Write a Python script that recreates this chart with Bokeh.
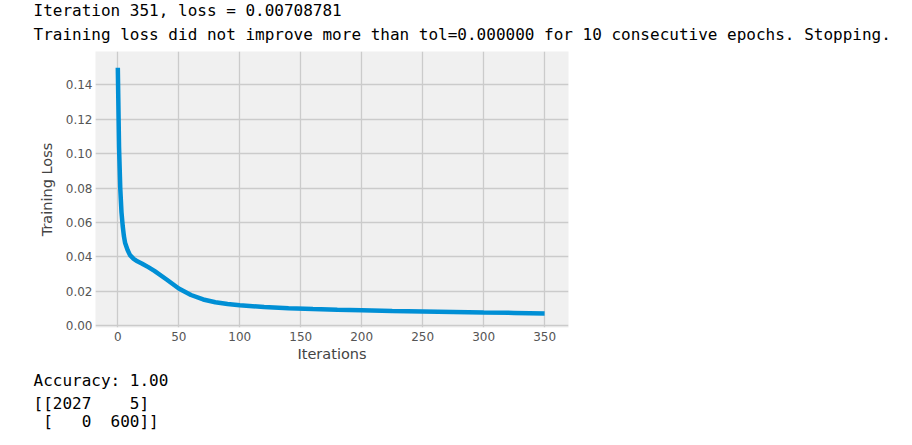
from bokeh.plotting import figure
from bokeh.models import Range1d, FixedTicker, NumeralTickFormatter, Title
from bokeh.embed import file_html
from bokeh.resources import INLINE

# ---- data ----
iterations = [0, 1, 2, 3, 4, 5, 6, 8, 10, 13, 16, 20, 25, 30, 40, 50, 60, 70, 80,
              90, 100, 120, 140, 160, 180, 200, 225, 250, 275, 300, 325, 350]
loss = [0.150, 0.104, 0.080, 0.066, 0.058, 0.052, 0.048, 0.0440, 0.0410, 0.0388,
        0.0374, 0.0360, 0.0340, 0.0318, 0.0268, 0.0216, 0.0178, 0.0152, 0.0136,
        0.0126, 0.0118, 0.0108, 0.0101, 0.0096, 0.0092, 0.0089, 0.0085, 0.0082,
        0.0079, 0.0076, 0.0074, 0.00709]
x_ticks = [0, 50, 100, 150, 200, 250, 300, 350]
y_ticks = [0.00, 0.02, 0.04, 0.06, 0.08, 0.10, 0.12, 0.14]
log_top = ["Iteration 351, loss = 0.00708781",
           "Training loss did not improve more than tol=0.000000 for 10 consecutive epochs. Stopping."]
log_bottom = ["Accuracy: 1.00", "[[2027    5]", " [   0  600]]"]

# ---- layout ----
W, H = 910, 444
FL, FR, FT, FB = 95, 568, 51, 327          # frame edges in canvas pixels
X0, X1 = -18.3, 369.6
Y0, Y1 = -0.0011, 0.1594

p = figure(width=W, height=H, output_backend="svg", toolbar_location=None,
           x_range=Range1d(X0, X1), y_range=Range1d(Y0, Y1),
           min_border_left=FL, min_border_right=W - FR,
           min_border_top=FT, min_border_bottom=H - FB)

p.background_fill_color = "#f0f0f0"
p.border_fill_color = "white"
p.outline_line_color = None

p.line(iterations, loss, line_color="#008fd5", line_width=4.5)

for ax in (p.xaxis, p.yaxis):
    ax.axis_line_color = None
    ax.major_tick_line_color = None
    ax.minor_tick_line_color = None
    ax.major_tick_in = 0
    ax.major_tick_out = 0
    ax.minor_tick_in = 0
    ax.minor_tick_out = 0
    ax.major_label_text_font = "DejaVu Sans"
    ax.major_label_text_font_size = "12px"
    ax.major_label_text_color = "#555555"
    ax.axis_label_text_font = "DejaVu Sans"
    ax.axis_label_text_font_size = "14.5px"
    ax.axis_label_text_font_style = "normal"
    ax.axis_label_text_color = "#444444"

p.xaxis.ticker = FixedTicker(ticks=x_ticks)
p.yaxis.ticker = FixedTicker(ticks=y_ticks)
p.yaxis.formatter = NumeralTickFormatter(format="0.00")
p.xaxis.axis_label = "Iterations"
p.yaxis.axis_label = "Training Loss"
p.xaxis.major_label_standoff = 4
p.yaxis.major_label_standoff = 3
p.xaxis.axis_label_standoff = 2
p.yaxis.axis_label_standoff = 8

p.xgrid.ticker = FixedTicker(ticks=x_ticks)
p.ygrid.ticker = FixedTicker(ticks=y_ticks)
p.grid.grid_line_color = "#cbcbcb"
p.grid.grid_line_width = 1.3


def log_title(txt, where, standoff):
    # keep runs of spaces visible (SVG collapses ordinary spaces)
    t = Title(text=txt.replace(" ", "\u00a0"), align="left", offset=33 - FL,
              standoff=standoff, text_font="DejaVu Sans Mono",
              text_font_size="16px", text_font_style="normal", text_color="#000000")
    p.add_layout(t, where)


# titles stack outward: first added is nearest the frame
log_title(log_top[1], "above", 16)
log_title(log_top[0], "above", -11)
log_title(log_bottom[0], "below", 9)
log_title(log_bottom[1], "below", -5)
log_title(log_bottom[2], "below", -1)

open("out.html", "w").write(file_html(p, INLINE))
